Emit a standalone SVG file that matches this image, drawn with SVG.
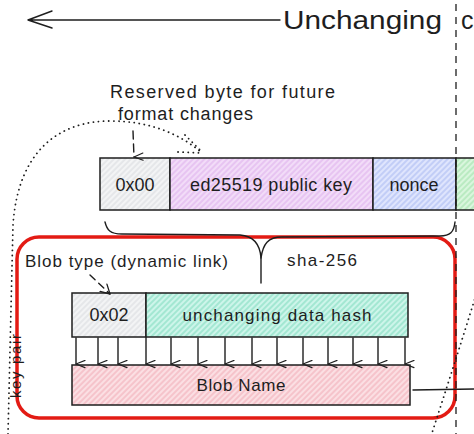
<svg xmlns="http://www.w3.org/2000/svg" width="474" height="434" viewBox="0 0 474 434">
<style>
  .t { font-family: "Liberation Sans", "DejaVu Sans", sans-serif; fill: #1e1e1e; }
  .box { stroke: #1e1e1e; stroke-width: 1.5; }
  .ln { fill: none; stroke: #1e1e1e; stroke-width: 1.4; stroke-linecap: round; stroke-linejoin: round; }
  .dot { fill: none; stroke: #1e1e1e; stroke-width: 1.8; stroke-dasharray: 0.1 5; stroke-linecap: round; }
</style>
<defs>
  <pattern id="hGrey" width="4" height="4" patternUnits="userSpaceOnUse" patternTransform="rotate(45)">
    <rect width="4" height="4" fill="#f3f4f5"/><line x1="1" y1="0" x2="1" y2="4" stroke="#cfd3d7" stroke-width="0.8"/>
  </pattern>
  <pattern id="hPurple" width="4" height="4" patternUnits="userSpaceOnUse" patternTransform="rotate(45)">
    <rect width="4" height="4" fill="#f2dcf8"/><line x1="1" y1="0" x2="1" y2="4" stroke="#d9a6ea" stroke-width="0.9"/>
  </pattern>
  <pattern id="hBlue" width="4" height="4" patternUnits="userSpaceOnUse" patternTransform="rotate(45)">
    <rect width="4" height="4" fill="#dfe5fd"/><line x1="1" y1="0" x2="1" y2="4" stroke="#9fb0ee" stroke-width="0.9"/>
  </pattern>
  <pattern id="hGreen" width="4" height="4" patternUnits="userSpaceOnUse" patternTransform="rotate(45)">
    <rect width="4" height="4" fill="#d9f6dd"/><line x1="1" y1="0" x2="1" y2="4" stroke="#94dca0" stroke-width="0.9"/>
  </pattern>
  <pattern id="hTeal" width="4" height="4" patternUnits="userSpaceOnUse" patternTransform="rotate(45)">
    <rect width="4" height="4" fill="#cdf5ea"/><line x1="1" y1="0" x2="1" y2="4" stroke="#6fd6b6" stroke-width="0.9"/>
  </pattern>
  <pattern id="hPink" width="4" height="4" patternUnits="userSpaceOnUse" patternTransform="rotate(45)">
    <rect width="4" height="4" fill="#fbdfe3"/><line x1="1" y1="0" x2="1" y2="4" stroke="#eea3ad" stroke-width="0.9"/>
  </pattern>
  <marker id="ah" viewBox="0 0 10 12" refX="5" refY="11" markerWidth="9" markerHeight="11" markerUnits="userSpaceOnUse" orient="auto-start-reverse">
    <path d="M1 1 L5 11 L9 1" fill="none" stroke="#1e1e1e" stroke-width="1.3" stroke-linecap="round" stroke-linejoin="round"/>
  </marker>
  <marker id="ahd" viewBox="0 0 12 12" refX="10" refY="6" markerWidth="12" markerHeight="12" markerUnits="userSpaceOnUse" orient="auto">
    <path d="M1 1 L10 6 L1 11" fill="none" stroke="#1e1e1e" stroke-width="1.3" stroke-linecap="round" stroke-linejoin="round"/>
  </marker>
</defs>
<rect width="474" height="434" fill="#ffffff"/>

<!-- header -->
<g id="header">
  <text class="t" x="283" y="29" font-size="25" textLength="159" lengthAdjust="spacingAndGlyphs">Unchanging</text>
  <text class="t" x="461" y="29" font-size="25">c</text>
</g>

<!-- group frame -->
<g id="blob-name-frame">
  <rect x="17" y="237" width="438" height="181" rx="22" fill="none" stroke="#e31b14" stroke-width="3.5"/>
</g>

<!-- top row -->
<g id="node-0x00">
  <rect class="box" x="100" y="158" width="70" height="52" fill="url(#hGrey)"/>
  <text class="t" x="135" y="191" font-size="18" text-anchor="middle">0x00</text>
</g>
<g id="node-ed25519">
  <rect class="box" x="170" y="158" width="203" height="52" fill="url(#hPurple)"/>
  <text class="t" x="271" y="191" font-size="18" text-anchor="middle" textLength="162">ed25519 public key</text>
</g>
<g id="node-nonce">
  <rect class="box" x="373" y="158" width="83" height="52" fill="url(#hBlue)"/>
  <text class="t" x="414" y="191" font-size="18" text-anchor="middle">nonce</text>
</g>
<g id="node-next">
  <rect class="box" x="456" y="158" width="24" height="52" fill="url(#hGreen)"/>
</g>

<!-- second row -->
<g id="node-0x02">
  <rect class="box" x="72" y="293" width="74" height="44" fill="url(#hGrey)"/>
  <text class="t" x="109" y="321" font-size="18" text-anchor="middle">0x02</text>
</g>
<g id="node-data-hash">
  <rect class="box" x="146" y="293" width="262" height="44" fill="url(#hTeal)"/>
  <text class="t" x="277" y="321" font-size="17" text-anchor="middle" textLength="189">unchanging data hash</text>
</g>
<g id="node-blob-name">
  <rect class="box" x="72" y="365" width="338" height="40" fill="url(#hPink)"/>
  <text class="t" x="241" y="391" font-size="17" text-anchor="middle" textLength="89">Blob Name</text>
</g>

<!-- labels -->
<g id="label-reserved">
  <text class="t" x="110" y="98" font-size="18" textLength="225">Reserved byte for future</text>
  <text class="t" x="118" y="120" font-size="18" textLength="135">format changes</text>
</g>
<g id="label-blob-type">
  <text class="t" x="25" y="267" font-size="17" textLength="203">Blob type (dynamic link)</text>
</g>
<g id="label-sha">
  <text class="t" x="287" y="266" font-size="17" textLength="70">sha-256</text>
</g>
<g id="label-key-pair">
  <text class="t" transform="translate(21,398) rotate(-90)" font-size="15" textLength="64">key pair</text>
</g>

<!-- connectors -->
<g id="connectors">
  <!-- top unchanging arrow -->
  <path class="ln" d="M280 20 L28 20 M52 11 L28 20 L52 28"/>
  <!-- dashed boundary -->
  <line x1="456" y1="4" x2="456" y2="434" stroke="#1e1e1e" stroke-width="1.3" stroke-dasharray="7 6"/>
  <!-- reserved byte arrow -->
  <path class="ln" d="M133 131 L134 157" stroke-dasharray="8 5" marker-end="url(#ah)"/>
  <!-- blob type arrow -->
  <path class="ln" d="M90 275 L110 294" stroke-dasharray="7 5" marker-end="url(#ahd)"/>
  <!-- brace -->
  <path class="ln" d="M105 222 C107 230 110 234 122 234 L240 235 C254 236 260 244 261 258 L261 283"/>
  <path class="ln" d="M261 258 C263 244 268 237 282 237 L440 236 C450 236 454 232 455 222"/>
  <!-- key pair dotted arrow (left) -->
  <path class="dot" d="M8 434 L13 225 C18 150 60 121 110 121 C150 121 180 134 202 153"/>
  <path class="dot" d="M185 135 L203 153 M178 152 L203 153"/>
  <!-- dotted line (right) -->
  <path class="dot" d="M476 295 C462 340 446 390 431 436"/>
  <!-- blob name to right -->
  <path class="ln" d="M413 390 L474 389"/>
  <!-- hash arrows -->
  <g class="ln" marker-end="url(#ah)">
    <path d="M76 338 L76 364"/>
    <path d="M98 338 L98 364"/>
    <path d="M118 338 L118 364"/>
    <path d="M146 338 L146 364"/>
    <path d="M171 338 L171 364"/>
    <path d="M198 338 L198 364"/>
    <path d="M225 338 L225 364"/>
    <path d="M252 338 L252 364"/>
    <path d="M277 338 L277 364"/>
    <path d="M303 338 L303 364"/>
    <path d="M328 338 L328 364"/>
    <path d="M353 338 L353 364"/>
    <path d="M378 338 L378 364"/>
    <path d="M405 338 L405 364"/>
  </g>
</g>
</svg>
